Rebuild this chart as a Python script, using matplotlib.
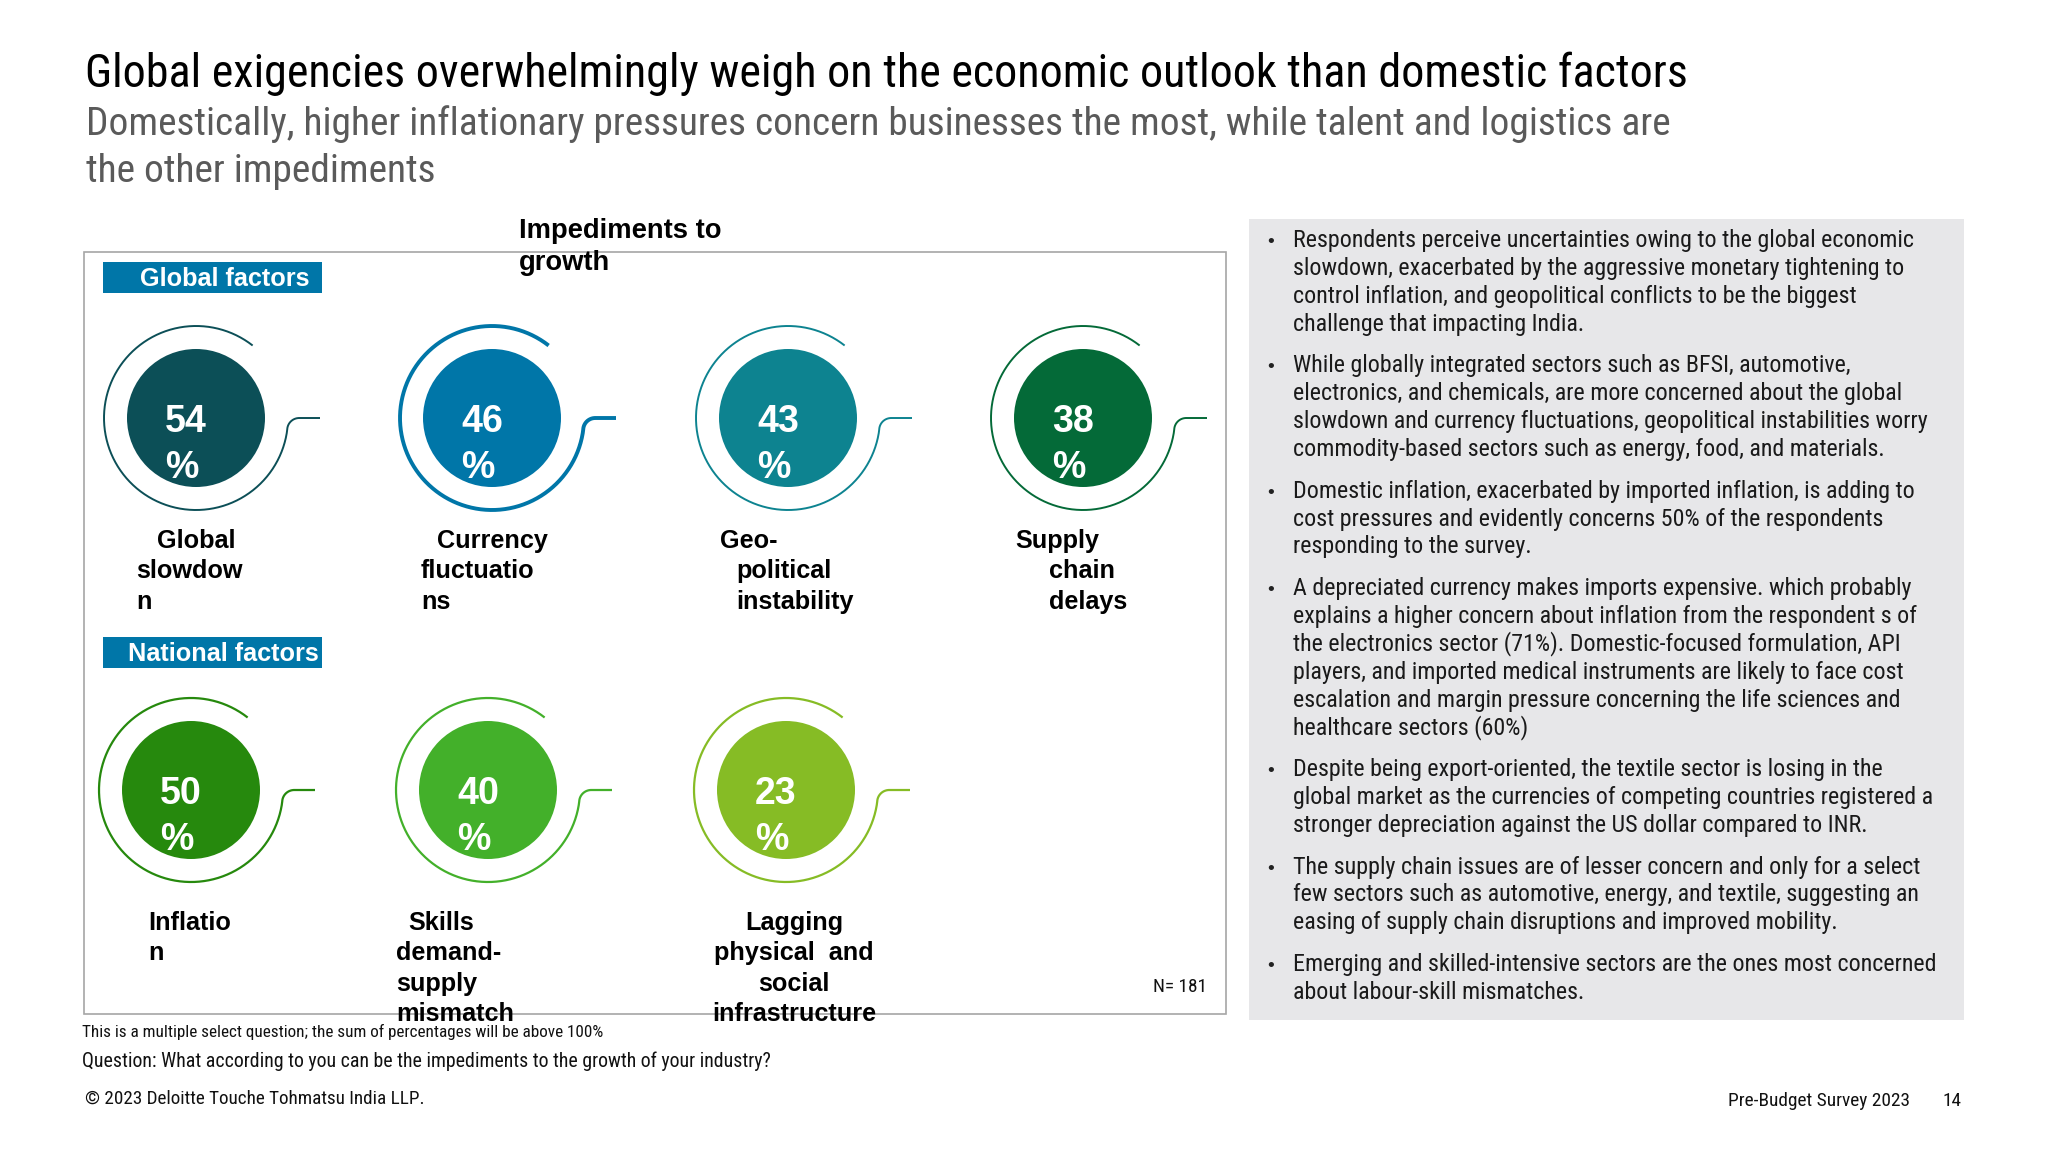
import numpy as np
import matplotlib
matplotlib.use('Agg')
import matplotlib.pyplot as plt
import matplotlib.font_manager as fm
from matplotlib.patches import Rectangle, Circle

# ---- data ----
GLOBAL_FACTORS = ['Global\nslowdow\nn', 'Currency\nfluctuatio\nns',
                  'Geo-\npolitical\ninstability', 'Supply\nchain\ndelays']
GLOBAL_VALUES = [54, 46, 43, 38]
NATIONAL_FACTORS = ['Inflatio\nn', 'Skills\ndemand-\nsupply\nmismatch',
                    'Lagging\nphysical  and\nsocial\ninfrastructure']
NATIONAL_VALUES = [50, 40, 23]
N_RESPONDENTS = 181

TITLE = 'Global exigencies overwhelmingly weigh on the economic outlook than domestic factors'
SUBTITLE = ['Domestically, higher inflationary pressures concern businesses the most, while talent and logistics are',
            'the other impediments']
CHART_HEADER = 'Impediments to\ngrowth'
GROUP_NAMES = ['Global factors', 'National factors']

BULLETS = [
    ['Respondents perceive uncertainties owing to the global economic',
     'slowdown, exacerbated by the aggressive monetary tightening to',
     'control inflation, and geopolitical conflicts to be the biggest',
     'challenge that impacting India.'],
    ['While globally integrated sectors such as BFSI, automotive,',
     'electronics, and chemicals, are more concerned about the global',
     'slowdown and currency fluctuations, geopolitical instabilities worry',
     'commodity-based sectors such as energy, food, and materials.'],
    ['Domestic inflation, exacerbated by imported inflation, is adding to',
     'cost pressures and evidently concerns 50% of the respondents',
     'responding to the survey.'],
    ['A depreciated currency makes imports expensive. which probably',
     'explains a higher concern about inflation from the respondent s of',
     'the electronics sector (71%). Domestic-focused formulation, API',
     'players, and imported medical instruments are likely to face cost',
     'escalation and margin pressure concerning the life sciences and',
     'healthcare sectors (60%)'],
    ['Despite being export-oriented, the textile sector is losing in the',
     'global market as the currencies of competing countries registered a',
     'stronger depreciation against the US dollar compared to INR.'],
    ['The supply chain issues are of lesser concern and only for a select',
     'few sectors such as automotive, energy, and textile, suggesting an',
     'easing of supply chain disruptions and improved mobility.'],
    ['Emerging and skilled-intensive sectors are the ones most concerned',
     'about labour-skill mismatches.'],
]

FOOTNOTE = 'This is a multiple select question; the sum of percentages will be above 100%'
QUESTION = 'Question: What according to you can be the impediments to the growth of your industry?'
COPYRIGHT = '\u00a9 2023 Deloitte Touche Tohmatsu India LLP.'
FOOTER_RIGHT = 'Pre-Budget Survey 2023'
PAGE = '14'

# ---- style / layout ----
GLOBAL_COLORS = ['#0C4F57', '#0076A8', '#0D8390', '#046A38']
NATIONAL_COLORS = ['#26890D', '#43B02A', '#86BC25']
BLUE = '#0076A8'

names = {f.name for f in fm.fontManager.ttflist}
NARROW = 'DejaVu Sans'
for cand in ['Liberation Sans Narrow', 'Roboto Condensed', 'Open Sans Condensed', 'Noto Sans', 'Lato']:
    if cand in names:
        NARROW = cand
        break
ARIAL = ['Liberation Sans', 'DejaVu Sans']

fig = plt.figure(figsize=(20.48, 11.52), dpi=100)
ax = fig.add_axes([0, 0, 1, 1])
ax.set_xlim(0, 2048)
ax.set_ylim(1152, 0)
ax.axis('off')
renderer = fig.canvas.get_renderer()


def fit(text, width, **kw):
    t = ax.text(0, 0, text, fontsize=20, **kw)
    w = t.get_window_extent(renderer).width
    t.remove()
    return 20 * width / w


# title block
fs = fit(TITLE, 1601, family=NARROW)
ax.text(85, 87, TITLE, fontsize=fs, family=NARROW, color='#000000', va='baseline')
fs = fit(SUBTITLE[0], 1584, family=NARROW)
for i, line in enumerate(SUBTITLE):
    ax.text(86, 135 + i * 47, line, fontsize=fs, family=NARROW, color='#5A5A5A', va='baseline')

# chart frame
ax.add_patch(Rectangle((84, 252), 1142, 762, facecolor='none', edgecolor='#A6A6A6', lw=1.2, zorder=1))
for i, line in enumerate(CHART_HEADER.split('\n')):
    ax.text(519, 238 + i * 32, line, fontsize=19.7, family=ARIAL, weight='bold', va='baseline', zorder=5)

# group boxes
for name, y0, tx in zip(GROUP_NAMES, [262, 637], [140, 128]):
    ax.add_patch(Rectangle((103, y0), 219, 31, facecolor=BLUE, edgecolor='none', zorder=2))
    ax.text(tx, y0 + 24, name, fontsize=18.2, family=ARIAL, weight='bold', color='white',
            va='baseline', zorder=3)


def badge(cx, cy, value, color, ring_lw):
    ax.add_patch(Circle((cx, cy), 69, facecolor=color, edgecolor='none', zorder=2))
    R, rf = 92, 12
    t = np.radians(np.linspace(52, 352.5, 300))
    xs = cx + R * np.cos(t)
    ys = cy - R * np.sin(t)
    ex, ey = R * np.cos(t[-1]), R * np.sin(t[-1])
    f = np.radians(np.linspace(180, 90, 40))
    fx = cx + ex + rf + rf * np.cos(f)
    fy = cy - (ey + rf * np.sin(f))
    lx = [fx[-1], cx + 124]
    ly = [fy[-1], fy[-1]]
    ax.plot(np.r_[xs, fx, lx], np.r_[ys, fy, ly], color=color, lw=ring_lw,
            solid_capstyle='butt', zorder=2)
    ax.text(cx - 31, cy + 14, str(value), fontsize=27, family=ARIAL, weight='bold',
            color='white', va='baseline', zorder=3)
    ax.text(cx - 31, cy + 60, '%', fontsize=27, family=ARIAL, weight='bold',
            color='white', va='baseline', zorder=3)


def label(x, y, text, indents, ha='left'):
    for i, line in enumerate(text.split('\n')):
        ax.text(x + indents[i], y + i * 30.4, line, fontsize=18.2, family=ARIAL,
                weight='bold', ha=ha, va='baseline', zorder=5)


g_centers = [196, 492, 788, 1083]
g_label_x = [136, 421, 720, 1015]
g_indents = [[21, 0, 0], [16, 0, 0], [0, 16, 16], [0, 34, 34]]
g_lw = [1.4, 2.8, 1.4, 1.4]
for cx, val, col, lx, ind, lw, txt in zip(g_centers, GLOBAL_VALUES, GLOBAL_COLORS,
                                          g_label_x, g_indents, g_lw, GLOBAL_FACTORS):
    badge(cx, 418, val, col, lw)
    label(lx, 548, txt, ind)

n_centers = [191, 488, 786]
n_label_x = [148, 396, 794]
n_indents = [[0, 0], [12, 0, 0, 0], [0, 0, 0, 0]]
n_ha = ['left', 'left', 'center']
for cx, val, col, lx, ind, ha, txt in zip(n_centers, NATIONAL_VALUES, NATIONAL_COLORS,
                                          n_label_x, n_indents, n_ha, NATIONAL_FACTORS):
    badge(cx, 790, val, col, 1.6)
    label(lx, 930, txt, ind, ha=ha)

ntxt = f'N= {N_RESPONDENTS}'
ax.text(1207, 992, ntxt, fontsize=fit(ntxt, 54, family=NARROW), family=NARROW,
        ha='right', va='baseline', color='#111111')

# right commentary panel
ax.add_patch(Rectangle((1249, 219), 715, 801, facecolor='#E7E7E9', edgecolor='none', zorder=0))
bfs = fit(BULLETS[-1][0], 645, family=NARROW)
pitch = 27.85
y = 247
for bullet in BULLETS:
    ax.text(1267, y, '\u2022', fontsize=bfs * 0.8, family=ARIAL, color='#222222', va='baseline')
    for line in bullet:
        ax.text(1293, y, line, fontsize=bfs, family=NARROW, color='#1A1A1A', va='baseline')
        y += pitch
    y += pitch * 0.5

# footer
ax.text(82, 1037, FOOTNOTE, fontsize=fit(FOOTNOTE, 520, family=NARROW), family=NARROW,
        color='#111111', va='baseline')
ax.text(82, 1067, QUESTION, fontsize=fit(QUESTION, 690, family=NARROW), family=NARROW,
        color='#111111', va='baseline')
ax.text(85, 1104, COPYRIGHT, fontsize=fit(COPYRIGHT, 341, family=NARROW), family=NARROW,
        color='#111111', va='baseline')
ffs = fit(FOOTER_RIGHT, 182, family=NARROW)
ax.text(1728, 1106, FOOTER_RIGHT, fontsize=ffs, family=NARROW, color='#111111', va='baseline')
ax.text(1943, 1106, PAGE, fontsize=ffs, family=NARROW, color='#111111', va='baseline')

fig.savefig('out.png', dpi=100, facecolor='white')
